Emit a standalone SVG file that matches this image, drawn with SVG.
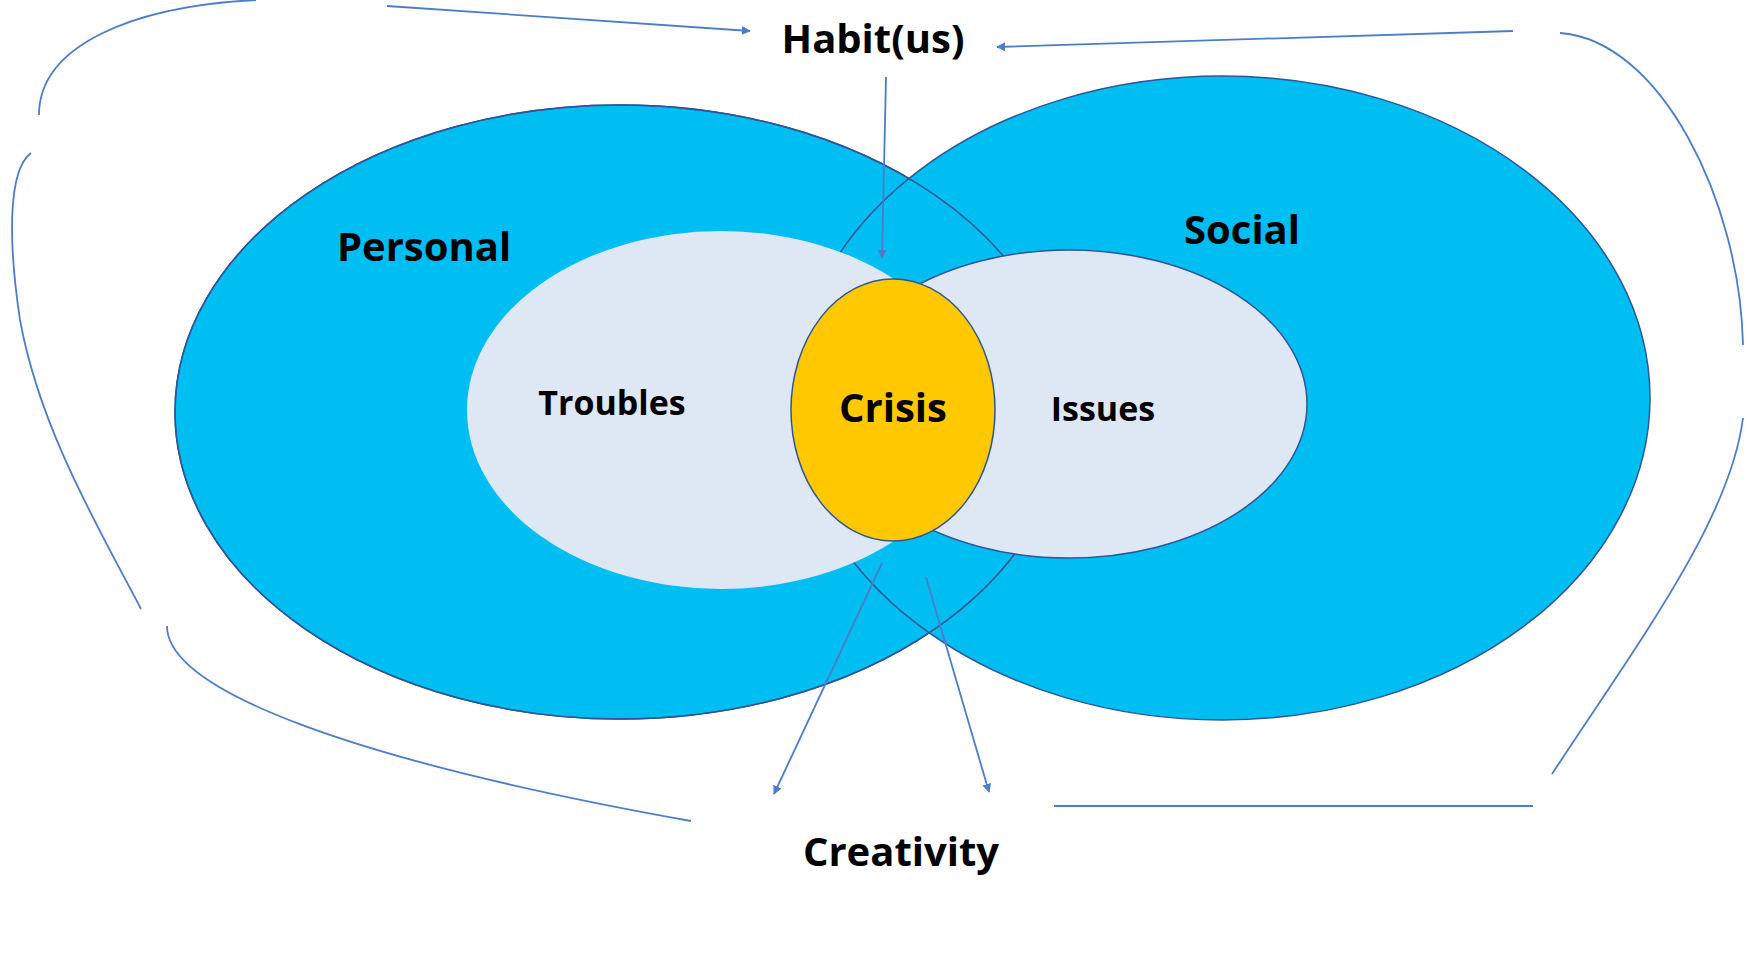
<svg xmlns="http://www.w3.org/2000/svg" width="1747" height="975" viewBox="0 0 1747 975">
<style>
.big{fill:#00BDF2;stroke:#2F5597;stroke-width:1.5}
.t{font-family:"Open Sans","Liberation Sans",sans-serif;font-weight:bold;fill:#000;text-anchor:middle}
.c{fill:none;stroke:#4A7EC8;stroke-width:1.8}
</style>
<defs><marker id="a" viewBox="0 0 10 10" refX="9" refY="5" markerWidth="5" markerHeight="5" orient="auto"><path d="M0,0L10,5L0,10z" fill="#4A7EC8"/></marker></defs>
<rect width="1747" height="975" fill="#fff"/>
<g id="personal"><ellipse cx="620" cy="412" rx="445" ry="307" class="big" fill-opacity="1"/></g>
<g id="social"><ellipse cx="1222" cy="398" rx="428" ry="322" class="big"/></g>
<ellipse cx="620" cy="412" rx="445" ry="307" fill="none" stroke="#2F5597" stroke-width="1.5"/>
<g id="troubles"><ellipse cx="721" cy="410" rx="254" ry="179" fill="#DEE7F4"/><text class="t" x="612" y="415" font-size="34">Troubles</text></g>
<g id="issues"><ellipse cx="1069" cy="404" rx="238" ry="154" fill="#DEE7F4" stroke="#2F5597" stroke-width="1.5"/><text class="t" x="1103" y="421" font-size="34">Issues</text></g>
<g id="crisis"><ellipse cx="893" cy="410" rx="102" ry="131" fill="#FFC800" stroke="#2F5597" stroke-width="1.5"/><text class="t" x="893" y="422" font-size="40">Crisis</text></g>
<text class="t" x="424" y="261" font-size="40">Personal</text>
<text class="t" x="1242" y="244" font-size="40">Social</text>
<g id="habitus"><text class="t" x="873" y="53" font-size="40">Habit(us)</text></g>
<g id="creativity"><text class="t" x="901" y="866" font-size="40">Creativity</text></g>
<g id="connectors">
<path class="c" d="M387,6L750,31" marker-end="url(#a)"/>
<path class="c" d="M1513,31L997,47" marker-end="url(#a)"/>
<path class="c" d="M886,77L882,258" marker-end="url(#a)"/>
<path class="c" d="M882,563L774,794" marker-end="url(#a)"/>
<path class="c" d="M926,577L989,792" marker-end="url(#a)"/>
<path class="c" d="M39,115C39,45 134,6 256,0"/>
<path class="c" d="M31,153C8,170 8,240 20,320C40,430 100,530 141,609"/>
<path class="c" d="M167,626C167,690 350,760 691,821"/>
<path class="c" d="M1560,33C1660,40 1740,200 1743,345"/>
<path class="c" d="M1743,418C1730,520 1640,640 1552,774"/>
<path class="c" d="M1054,806L1533,806"/>
</g>
</svg>
